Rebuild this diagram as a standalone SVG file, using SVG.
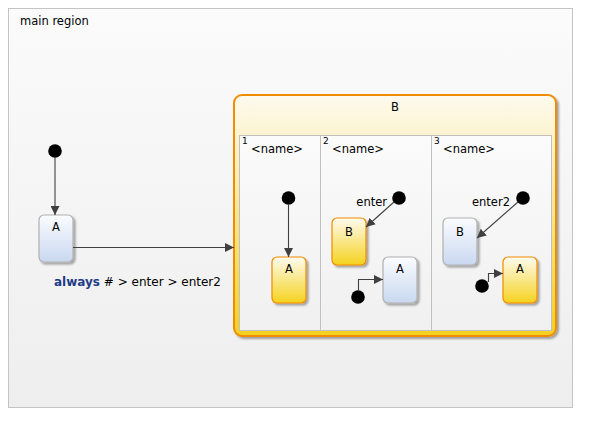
<svg xmlns="http://www.w3.org/2000/svg" width="590" height="423" viewBox="0 0 590 423">
<defs>
<linearGradient id="gMain" x1="0" y1="0" x2="0" y2="1"><stop offset="0" stop-color="#fbfbfb"/><stop offset="1" stop-color="#eeeeee"/></linearGradient>
<linearGradient id="gReg" x1="0" y1="0" x2="0" y2="1"><stop offset="0" stop-color="#fbfbfb"/><stop offset="1" stop-color="#f0f0f0"/></linearGradient>
<linearGradient id="gComp" x1="0" y1="0" x2="0" y2="1"><stop offset="0" stop-color="#fdfaee"/><stop offset="0.3" stop-color="#fbefb8"/><stop offset="1" stop-color="#f4d020"/></linearGradient>
<linearGradient id="gY" x1="0" y1="0" x2="0" y2="1"><stop offset="0" stop-color="#fefbf0"/><stop offset="1" stop-color="#f5d21e"/></linearGradient>
<linearGradient id="gB" x1="0" y1="0" x2="0" y2="1"><stop offset="0" stop-color="#fbfcfe"/><stop offset="1" stop-color="#c9d8f0"/></linearGradient>
<marker id="arr" viewBox="0 0 10 10" refX="10" refY="5" markerWidth="9" markerHeight="9" markerUnits="userSpaceOnUse" orient="auto"><path d="M0,0 L10,5 L0,10 z" fill="#404040"/></marker>
<filter id="sh" x="-20%" y="-20%" width="150%" height="150%"><feGaussianBlur in="SourceAlpha" stdDeviation="1.2"/><feOffset dx="2" dy="2" result="b"/><feComponentTransfer><feFuncA type="linear" slope="0.35"/></feComponentTransfer><feMerge><feMergeNode/><feMergeNode in="SourceGraphic"/></feMerge></filter>
</defs>
<style>
text{font-family:"DejaVu Sans",Verdana,sans-serif;font-size:11.5px;fill:#000}
.st{stroke-width:1.2}
.yel{fill:url(#gY);stroke:#f08c00}
.blu{fill:url(#gB);stroke:#b0b0b0}
.ln{fill:none;stroke:#404040;stroke-width:1.1}
.dot{fill:#000}
.num{font-size:9px}
.c{text-anchor:middle}
</style>
<g id="main_region">
<rect x="8.5" y="8.5" width="564" height="399" fill="url(#gMain)" stroke="#c4c4c4"/>
<text x="20" y="25">main region</text>
</g>
<g id="init_main"><circle class="dot" cx="55" cy="151" r="6.8"/></g>
<g id="state_A_main"><rect class="blu st" x="39" y="215" width="34" height="47" rx="5" filter="url(#sh)"/><text class="c" x="56" y="231">A</text></g>
<g id="state_B">
<rect x="234" y="95" width="322" height="241" rx="8" fill="url(#gComp)" stroke="#f08c00" stroke-width="2" filter="url(#sh)"/>
<text class="c" x="395" y="111">B</text>
<rect x="239.5" y="135.5" width="312" height="195" fill="url(#gReg)" stroke="#c0c0c0"/>
<line x1="320.5" y1="135.5" x2="320.5" y2="330.5" stroke="#c0c0c0"/>
<line x1="431.5" y1="135.5" x2="431.5" y2="330.5" stroke="#c0c0c0"/>
<text class="num" x="242" y="144">1</text><text x="251" y="153">&lt;name&gt;</text>
<text class="num" x="323" y="144">2</text><text x="332" y="153">&lt;name&gt;</text>
<text class="num" x="434" y="144">3</text><text x="443" y="153">&lt;name&gt;</text>
</g>
<g id="r1_init"><circle class="dot" cx="288.5" cy="198" r="6.8"/></g>
<g id="r1_A"><rect class="yel st" x="272" y="257" width="34" height="46" rx="5" filter="url(#sh)"/><text class="c" x="289" y="273">A</text></g>
<g id="r2_init_enter"><circle class="dot" cx="399" cy="198" r="6.8"/><text x="387" y="206" text-anchor="end">enter</text></g>
<g id="r2_B"><rect class="yel st" x="332" y="218" width="34" height="47" rx="5" filter="url(#sh)"/><text class="c" x="349" y="236">B</text></g>
<g id="r2_A"><rect class="blu st" x="383" y="257" width="34" height="46" rx="5" filter="url(#sh)"/><text class="c" x="400" y="273">A</text></g>
<g id="r2_init"><circle class="dot" cx="358" cy="297" r="6.8"/></g>
<g id="r3_init_enter2"><circle class="dot" cx="523" cy="198" r="6.8"/><text x="510" y="206" text-anchor="end">enter2</text></g>
<g id="r3_B"><rect class="blu st" x="443" y="218" width="34" height="47" rx="5" filter="url(#sh)"/><text class="c" x="460" y="236">B</text></g>
<g id="r3_A"><rect class="yel st" x="503" y="257" width="34" height="46" rx="5" filter="url(#sh)"/><text class="c" x="520" y="273">A</text></g>
<g id="r3_init"><circle class="dot" cx="482" cy="286" r="6.8"/></g>
<g id="connectors">
<line class="ln" x1="55" y1="157" x2="55" y2="215" marker-end="url(#arr)"/>
<line class="ln" x1="73" y1="247.5" x2="234" y2="247.5" marker-end="url(#arr)"/>
<text x="54" y="286" style="font-size:12px"><tspan font-weight="bold" fill="#1f3c88">always</tspan> # &gt; enter &gt; enter2</text>
<line class="ln" x1="288.5" y1="204" x2="288.5" y2="257" marker-end="url(#arr)"/>
<line class="ln" x1="394" y1="202" x2="366" y2="227" marker-end="url(#arr)"/>
<polyline class="ln" points="358.5,291 358.5,279.5 383,279.5" marker-end="url(#arr)"/>
<line class="ln" x1="518" y1="202" x2="477" y2="238" marker-end="url(#arr)"/>
<polyline class="ln" points="488.5,282 488.5,273.5 503,273.5" marker-end="url(#arr)"/>
</g>
</svg>
